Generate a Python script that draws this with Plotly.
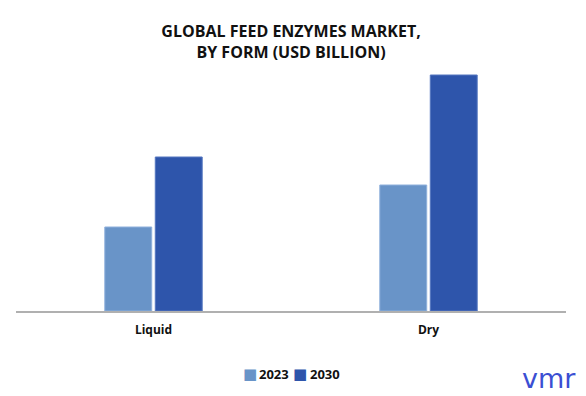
import plotly.graph_objects as go

categories = ["Liquid", "Dry"]
series_names = ["2023", "2030"]
values_2023 = [0.84, 1.26]
values_2030 = [1.54, 2.36]
colors = ["#6994C8", "#2E55AB"]
edge_colors = ["#8FB0DC", "#5577C0"]

ML, MR = 8, 28
PW = 586 - ML - MR

fig = go.Figure()
for name, vals, col, ec in zip(series_names, [values_2023, values_2030], colors, edge_colors):
    fig.add_trace(go.Bar(
        x=categories, y=vals, name=name,
        marker=dict(color=col, line=dict(color=ec, width=1)),
    ))

fig.update_layout(
    width=586, height=396,
    paper_bgcolor="white", plot_bgcolor="white",
    margin=dict(l=ML, r=MR, t=52, b=93),
    barmode="group", bargap=0.633, bargroupgap=0.07,
    title=dict(
        text="GLOBAL FEED ENZYMES MARKET,<br>BY FORM (USD BILLION)",
        x=0.483, xanchor="center", y=0.927, yanchor="top",
        font=dict(family="Open Sans", size=16, color="#111111", weight="bold"),
    ),
    xaxis=dict(
        showline=True, linecolor="#B0B0B0", linewidth=1.5,
        ticks="outside", ticklen=7, tickcolor="rgba(0,0,0,0)",
        tickfont=dict(family="Open Sans", size=12, color="#111111", weight="bold"),
        showgrid=False,
    ),
    yaxis=dict(visible=False, range=[0, 2.51], showgrid=False),
    showlegend=False,
    font=dict(family="Open Sans"),
)

# legend drawn as annotations (square + label per series)
leg_square_x = [242, 292.5]
leg_text_x = [249, 300]
leg_y = (303 - 366) / 251
for n, c, sx, tx in zip(series_names, colors, leg_square_x, leg_text_x):
    fig.add_annotation(
        text="■", xref="paper", yref="paper", x=(sx - ML) / PW, y=leg_y,
        xanchor="center", yanchor="middle", showarrow=False,
        font=dict(family="DejaVu Sans", size=15, color=c),
    )
    fig.add_annotation(
        text=n, xref="paper", yref="paper", x=(tx - ML) / PW, y=leg_y,
        xanchor="left", yanchor="middle", showarrow=False,
        font=dict(family="Open Sans", size=13, color="#111111", weight="bold"),
    )

fig.add_annotation(
    text="vmr", xref="paper", yref="paper", x=(570 - ML) / PW, y=(303 - 388) / 251,
    xanchor="right", yanchor="bottom", showarrow=False,
    font=dict(family="DejaVu Sans", size=27, color="#3B4FD3"),
)

fig.write_html("out.html")
